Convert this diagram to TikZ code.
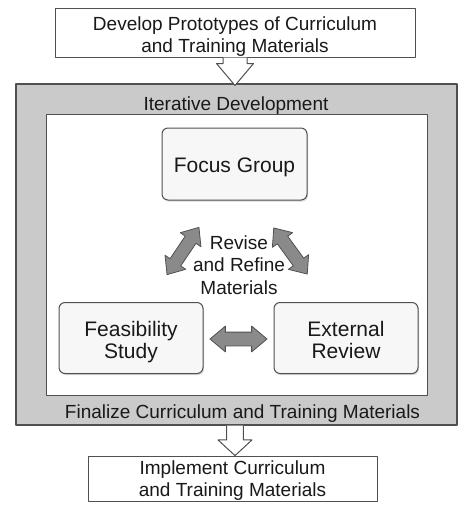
\documentclass[tikz,border=0pt]{standalone}
\usepackage{fontspec}
\setmainfont{Liberation Sans}
\usetikzlibrary{shapes.arrows,shadows,calc}
\definecolor{edgegray}{HTML}{505050}
\definecolor{panelgray}{HTML}{CACACA}
\definecolor{boxfill}{HTML}{F7F7F7}
\definecolor{arrowgray}{HTML}{8A8A8A}
\begin{document}
\begin{tikzpicture}[x=1pt,y=-1pt,line join=round,font=\fontsize{19}{22}\selectfont]
    \tikzset{every node/.style={inner sep=0pt,align=center,text=black!90},
        plainbox/.style={draw=edgegray,fill=white,line width=1pt,text depth=0pt},
        stagebox/.style={draw=edgegray,fill=boxfill,line width=1pt,rounded corners=6pt,
            minimum width=144pt,minimum height=71pt,font=\fontsize{21}{22.5}\selectfont,text height=41pt,text depth=0pt,
            drop shadow={shadow xshift=1pt,shadow yshift=-1.5pt,opacity=0.3}},
        hollowarr/.style={draw=edgegray,fill=white,line width=1pt},
        revarr/.style={double arrow,draw=edgegray,fill=arrowgray,line width=0.8pt,inner ysep=6.5pt,
            minimum width=25pt,minimum height=57pt,double arrow head extend=6pt,double arrow tip angle=80}}
    \useasboundingbox (0,0) rectangle (474,506);
    \node[plainbox,minimum width=360pt,minimum height=49pt,text height=39.6pt] (proto) at (235,32.5) {Develop Prototypes of Curriculum\\and Training Materials};
    \node[draw=edgegray,fill=panelgray,line width=1.2pt,minimum width=441pt,minimum height=341pt] (iter) at (236.5,254.5) {};
    \node[plainbox,minimum width=381pt,minimum height=281pt] (inner) at (236.5,254.5) {};
    \node[anchor=base] (itertitle) at (236,110) {Iterative Development};
    \node[anchor=base] (final) at (242.5,418) {Finalize Curriculum and Training Materials};
    \node[plainbox,minimum width=289pt,minimum height=45pt,text height=35pt,font=\fontsize{19}{21.5}\selectfont] (impl) at (232.5,478.5) {Implement Curriculum\\and Training Materials};
    \node[stagebox,minimum width=145pt,minimum height=72pt,text height=17.4pt] (focus) at (234.5,164) {Focus Group};
    \node[stagebox] (feas) at (131,338) {Feasibility\\Study};
    \node[stagebox] (review) at (346,338) {External\\Review};
    \node[font=\fontsize{19}{22.5}\selectfont] (revise) at (239,265) {Revise\\and Refine\\Materials};
    % hollow arrows into and out of the panel
    \begin{scope}[shift={(proto.south)}]
        \draw[hollowarr] (-12,0) -- (-12,6) -- (-18.5,6) -- (0,28) -- (18.5,6) -- (12,6) -- (12,0);
    \end{scope}
    \begin{scope}[shift={($(iter.south)+(-1.5,0)$)}]
        \draw[hollowarr] (-8.3,0) -- (-8.3,14.3) -- (-17,14.3) -- (0,30) -- (17,14.3) -- (8.3,14.3) -- (8.3,0);
    \end{scope}
    \node[revarr] (feasrev) at ($(feas.east)!0.5!(review.west)+(0,1)$) {};
    \node[revarr,rotate=56,inner ysep=6pt,minimum height=57pt] (focusfeas) at (183,251) {};
    \node[revarr,rotate=-54,inner ysep=6pt,minimum height=57pt] (focusrev) at (290.5,251) {};
\end{tikzpicture}
\end{document}
